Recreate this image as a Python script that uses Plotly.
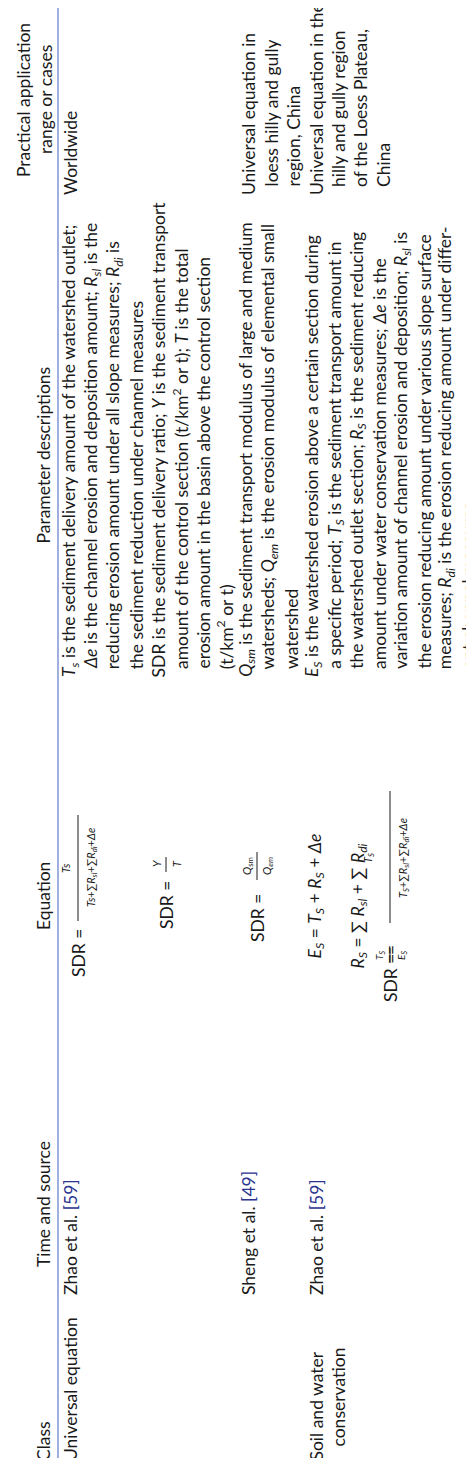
import plotly.graph_objects as go

# table text (the page is a table turned 90 degrees, read bottom to top)
headers = ['Class', 'Time and source', 'Equation', 'Parameter descriptions',
           'Practical application', 'range or cases']
classes = ['Universal equation', 'Soil and water', 'conservation']
sources = ['Zhao et al. <span style="color:#2a3590">[59]</span>',
           'Sheng et al. <span style="color:#2a3590">[49]</span>',
           'Zhao et al. <span style="color:#2a3590">[59]</span>']
descriptions = [
    '<i>T</i><sub><i>s</i></sub> is the sediment delivery amount of the watershed outlet;',
    '<i>Δe</i> is the channel erosion and deposition amount; <i>R</i><sub><i>sl</i></sub> is the',
    'reducing erosion amount under all slope measures; <i>R</i><sub><i>di</i></sub> is',
    'the sediment reduction under channel measures',
    'SDR is the sediment delivery ratio; <i>Y</i> is the sediment transport',
    'amount of the control section (t/km<sup>2</sup> or t); <i>T</i> is the total',
    'erosion amount in the basin above the control section',
    '(t/km<sup>2</sup> or t)',
    '<i>Q</i><sub><i>sm</i></sub> is the sediment transport modulus of large and medium',
    'watersheds; <i>Q</i><sub><i>em</i></sub> is the erosion modulus of elemental small',
    'watershed',
    '<i>E</i><sub><i>S</i></sub> is the watershed erosion above a certain section during',
    'a specific period; <i>T</i><sub><i>S</i></sub> is the sediment transport amount in',
    'the watershed outlet section; <i>R</i><sub><i>S</i></sub> is the sediment reducing',
    'amount under water conservation measures; <i>Δe</i> is the',
    'variation amount of channel erosion and deposition; <i>R</i><sub><i>sl</i></sub> is',
    'the erosion reducing amount under various slope surface',
    'measures; <i>R</i><sub><i>di</i></sub> is the erosion reducing amount under differ-',
    'ent channel measures',
]
desc_first = [0, 4, 8, 11]
applications = ['Worldwide',
                'Universal equation in', 'loess hilly and gully', 'region, China',
                'Universal equation in the', 'hilly and gully region',
                'of the Loess Plateau,', 'China']
app_first = [0, 1, 4]

FONT = 'Lato'
BODY = 17.5
W, H = 474, 1458
fig = go.Figure()

def txt(x, y, s, size=BODY, anchor='bottom', color='#1a1a1a'):
    fig.add_annotation(x=x, y=y, text=s, showarrow=False, textangle=-90,
                       xanchor='center', yanchor=anchor, borderpad=0,
                       font=dict(family=FONT, size=size, color=color))

def bar(x, y0, y1, w=1):
    fig.add_shape(type='line', x0=x, x1=x, y0=y0, y1=y1,
                  line=dict(color='#1a1a1a', width=w))

# header
txt(35, 1454, headers[0])
txt(35, 1260, headers[1])
txt(35, 923, headers[2])
txt(35, 537, headers[3])
txt(15, 92, headers[4], anchor='middle')
txt(37, 92, headers[5], anchor='middle')
fig.add_shape(type='line', x0=50, x1=50, y0=0, y1=H,
              line=dict(color='#8094d4', width=1.5))

# class / source
txt(62, 1454, classes[0])
txt(308, 1454, classes[1])
txt(330, 1440, classes[2])
for x, s in zip([62, 240, 308], sources):
    txt(x, 1288, s)

# descriptions
for i, s in enumerate(descriptions):
    txt(62 + 22.1 * i, 670 if i in desc_first else 662, s)

# applications
app_x = [62, 240, 263, 285, 308, 330, 352, 375]
for i, (x, s) in enumerate(zip(app_x, applications)):
    txt(x, 188 if i in app_first else 180, s)

# equations
txt(70, 970, 'SDR =')
bar(70, 807, 913)
txt(57, 860, '<i>Ts</i>', size=11, anchor='middle')
txt(83, 860, '<i>Ts</i>+∑<i>R</i><sub><i>sl</i></sub>+∑<i>R</i><sub><i>di</i></sub>+<i>Δe</i>',
    size=11, anchor='middle')

txt(158, 922, 'SDR =')
bar(158, 849, 864)
txt(148, 856, '<i>Y</i>', size=11, anchor='middle')
txt(168, 856, '<i>T</i>', size=11, anchor='middle')

txt(249, 935, 'SDR =')
bar(249, 844, 872)
txt(239, 858, '<i>Q</i><sub>sm</sub>', size=11, anchor='middle')
txt(259, 858, '<i>Q</i><sub><i>em</i></sub>', size=11, anchor='middle')

txt(307, 952, '<i>E</i><sub><i>S</i></sub> = <i>T</i><sub><i>S</i></sub> + <i>R</i><sub><i>S</i></sub> + <i>Δe</i>')
txt(350, 962, '<i>R</i><sub><i>S</i></sub> = ∑ <i>R</i><sub><i>sl</i></sub> + ∑ <i>R</i><sub><i>di</i></sub>')
txt(382, 995, 'SDR =')
bar(382, 940, 955)
txt(371, 948, '<i>T</i><sub><i>S</i></sub>', size=10, anchor='middle')
txt(393, 948, '<i>E</i><sub><i>S</i></sub>', size=10, anchor='middle')
txt(382, 936, '=', anchor='top')
bar(382, 783, 915)
txt(360, 850, '<i>T</i><sub><i>S</i></sub>', size=11, anchor='middle')
txt(395, 850, '<i>T</i><sub><i>S</i></sub>+∑<i>R</i><sub><i>sl</i></sub>+∑<i>R</i><sub><i>di</i></sub>+<i>Δe</i>',
    size=11, anchor='middle')

fig.update_xaxes(range=[0, W], visible=False, fixedrange=True)
fig.update_yaxes(range=[H, 0], visible=False, fixedrange=True)
fig.update_layout(width=W, height=H, margin=dict(l=0, r=0, t=0, b=0),
                  plot_bgcolor='white', paper_bgcolor='white', showlegend=False)
fig.write_html('out.html', config={'displayModeBar': False})
